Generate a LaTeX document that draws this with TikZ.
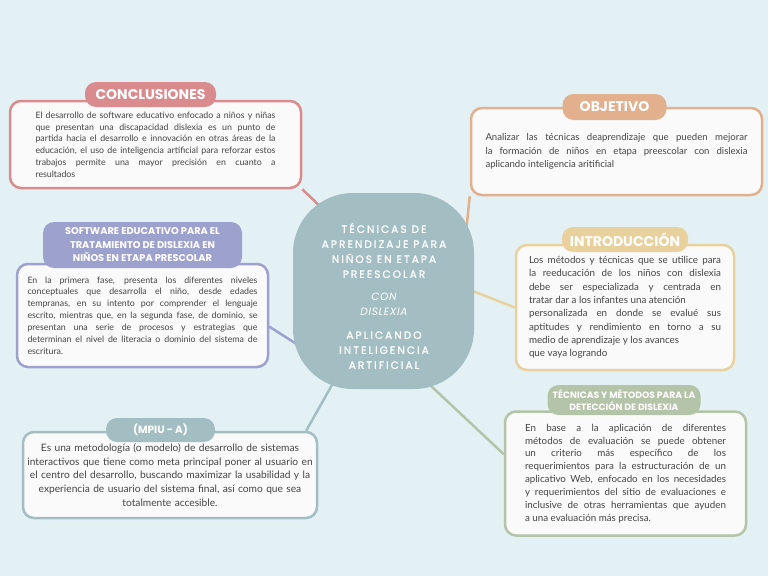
\documentclass[tikz,border=0pt]{standalone}
\usepackage{fontspec}
\setmainfont{Lato}
\newfontfamily\titlefont{Poppins}
\newfontfamily\hubfont{Poppins}[LetterSpace=19,FakeBold=0.8]
\newfontfamily\hubitfont{Poppins}[LetterSpace=6]
\usetikzlibrary{shapes}
\pgfdeclarelayer{back}
\pgfsetlayers{back,main}

\definecolor{bgblue}{HTML}{E3F1F5}
\definecolor{hubcol}{HTML}{A3BEC3}
\definecolor{conccol}{HTML}{D98B8E}
\definecolor{softcol}{HTML}{9DA1CD}
\definecolor{objcol}{HTML}{E2B08D}
\definecolor{introcol}{HTML}{E9D19E}
\definecolor{teccol}{HTML}{B4C4A8}
\definecolor{boxfill}{HTML}{FAFAFA}
\definecolor{bodytext}{HTML}{444444}

\tikzset{
  box/.style={draw=#1, line width=2.5pt, fill=boxfill, rounded corners=11pt,
    text=bodytext, inner sep=0pt},
  pill/.style={fill=#1, rounded corners=11pt, text=white, inner sep=0pt,
    align=center},
  link/.style={draw=#1, line width=2.5pt},
  hub/.style={fill=hubcol, rounded corners=60pt, inner sep=0pt}
}

\begin{document}
\begin{tikzpicture}[x=1pt,y=-1pt]
  \useasboundingbox (0,0) rectangle (768,576);

  %% centre
  \node[hub, minimum width=181pt, minimum height=196pt] (hub) at (383.5,291) {};
  \node[text=white, align=center, inner sep=0pt,
    font=\hubfont\fontsize{10.6}{15}\selectfont] (hubText) at (384,296)
    {TÉCNICAS DE\\ APRENDIZAJE PARA\\ NIÑOS EN ETAPA\\ PREESCOLAR\\[8pt]
     \hubitfont\itshape CON\\ \hubitfont\itshape DISLEXIA\\[8pt]
     \hubfont\upshape APLICANDO\\ INTELIGENCIA\\ ARTIFICIAL};
  \coordinate (hubNW) at (345,230);
  \coordinate (hubNE) at (464,252);
  \coordinate (hubE) at (455,284);
  \coordinate (hubSW) at (320,359);
  \coordinate (hubS) at (346,360);
  \coordinate (hubSE) at (414,370);

  %% boxes
  \node[box=conccol, minimum width=291pt, minimum height=87pt,
    text width=240pt, align=justify,
    font=\fontsize{8.8}{11.8}\selectfont] (concBox) at (155.5,144.5)
    {El desarrollo de software educativo enfocado a niños y niñas\linebreak
     que presentan una discapacidad dislexia es un punto de\linebreak
     partida hacia el desarrollo e innovación en otras áreas de la\linebreak
     educación, el uso de inteligencia artificial para reforzar estos\linebreak
     trabajos permite una mayor precisión en cuanto a\linebreak
     resultados};
  \node[pill=conccol, minimum width=131pt, minimum height=25pt,
    font=\titlefont\bfseries\fontsize{14}{16}\selectfont]
    (concTitle) at (150.5,94.5) {CONCLUSIONES};

  \node[box=softcol, minimum width=251pt, minimum height=103pt,
    text width=230pt, align=justify,
    font=\fontsize{8.8}{11.9}\selectfont] (softBox) at (142.5,315.5)
    {En la primera fase, presenta los diferentes niveles\linebreak
     conceptuales que desarrolla el niño, desde edades\linebreak
     tempranas, en su intento por comprender el lenguaje\linebreak
     escrito, mientras que, en la segunda fase, de dominio, se\linebreak
     presentan una serie de procesos y estrategias que\linebreak
     determinan el nivel de literacia o dominio del sistema de\linebreak
     escritura.};
  \node[pill=softcol, minimum width=199pt, minimum height=46pt,
    font=\titlefont\bfseries\fontsize{9.8}{13.5}\selectfont]
    (softTitle) at (142.5,245)
    {SOFTWARE EDUCATIVO PARA EL\\ TRATAMIENTO DE DISLEXIA EN\\
     NIÑOS EN ETAPA PRESCOLAR};

  \node[box=objcol, minimum width=291pt, minimum height=87pt,
    text width=262pt, align=justify,
    font=\fontsize{9.6}{13.7}\selectfont] (objBox) at (616.5,151.5)
    {Analizar las técnicas deaprendizaje que pueden mejorar\linebreak
     la formación de niños en etapa preescolar con dislexia\linebreak
     aplicando inteligencia aritificial};
  \node[pill=objcol, minimum width=104pt, minimum height=26pt,
    font=\titlefont\bfseries\fontsize{14}{16}\selectfont]
    (objTitle) at (614.5,107) {OBJETIVO};

  \node[box=introcol, minimum width=218pt, minimum height=125pt,
    text width=192pt, align=justify,
    font=\fontsize{9.8}{13.3}\selectfont] (introBox) at (625,307.5)
    {Los métodos y técnicas que se utilice para\linebreak
     la reeducación de los niños con dislexia\linebreak
     debe ser especializada y centrada en\linebreak
     tratar dar a los infantes una atención\\
     personalizada en donde se evalué sus\linebreak
     aptitudes y rendimiento en torno a su\linebreak
     medio de aprendizaje y los avances\\
     que vaya logrando};
  \node[pill=introcol, minimum width=126pt, minimum height=25pt,
    font=\titlefont\bfseries\fontsize{14}{16}\selectfont]
    (introTitle) at (625,239.5) {INTRODUCCIÓN};

  \node[box=teccol, minimum width=241pt, minimum height=124pt,
    text width=201pt, align=justify,
    font=\fontsize{9.8}{12.9}\selectfont] (tecBox) at (625.5,473.5)
    {En base a la aplicación de diferentes\linebreak
     métodos de evaluación se puede obtener\linebreak
     un criterio más específico de los\linebreak
     requerimientos para la estructuración de un\linebreak
     aplicativo Web, enfocado en los necesidades\linebreak
     y requerimientos del sitio de evaluaciones e\linebreak
     inclusive de otras herramientas que ayuden\linebreak
     a una evaluación más precisa.};
  \node[pill=teccol, minimum width=153pt, minimum height=30pt,
    font=\titlefont\bfseries\fontsize{9.2}{12}\selectfont]
    (tecTitle) at (624,400)
    {TÉCNICAS Y MÉTODOS PARA LA\\ DETECCIÓN DE DISLEXIA};

  \node[box=hubcol, minimum width=294pt, minimum height=86pt,
    text width=292pt, align=center,
    font=\fontsize{10.2}{13.7}\selectfont] (mpiuBox) at (170,475)
    {Es una metodología (o modelo) de desarrollo de sistemas\\
     interactivos que tiene como meta principal poner al usuario en\\
     el centro del desarrollo, buscando maximizar la usabilidad y la\\
     experiencia de usuario del sistema final, así como que sea\\
     totalmente accesible.};
  \node[pill=hubcol, minimum width=109pt, minimum height=24pt,
    font=\titlefont\bfseries\fontsize{10.5}{12}\selectfont]
    (mpiuTitle) at (160.5,430) {(MPIU - A)};

  %% connectors
  \begin{pgfonlayer}{back}
    \fill[bgblue] (0,0) rectangle (768,576);
    \draw[link=conccol] (concBox.south east) -- (hubNW);
    \draw[link=objcol] (objBox.south west) -- (hubNE);
    \draw[link=introcol] (introBox.west) -- (hubE);
    \draw[link=softcol] (softBox.-5) -- (hubSW);
    \draw[link=hubcol] (mpiuBox.18) -- (hubS);
    \draw[link=teccol] (tecBox.171) -- (hubSE);
  \end{pgfonlayer}
\end{tikzpicture}
\end{document}
